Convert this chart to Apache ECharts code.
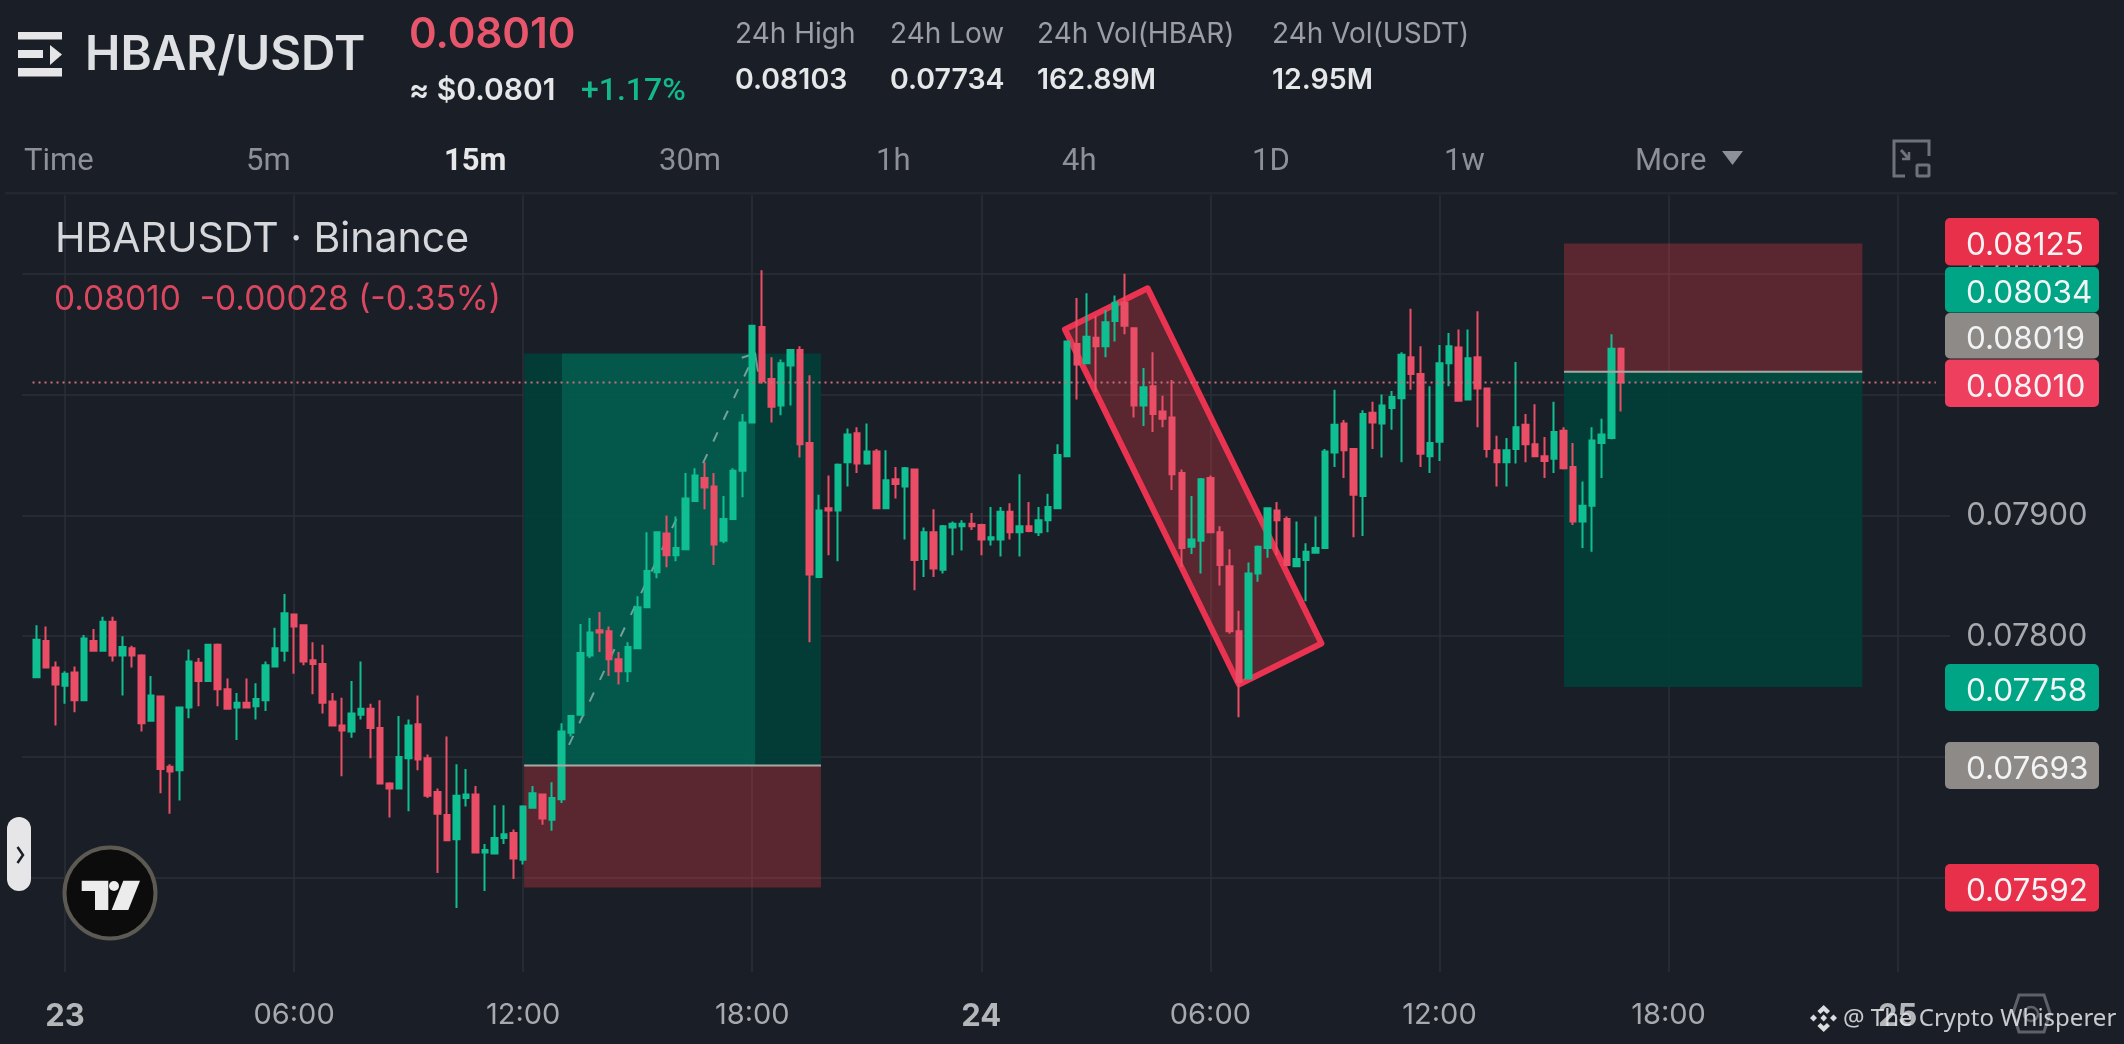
<!DOCTYPE html>
<html><head><meta charset="utf-8">
<script src="https://cdn.jsdelivr.net/npm/echarts@6/dist/echarts.min.js"></script>
<style>html,body{margin:0;padding:0;background:#1a1e27}#c{width:2124px;height:1044px}</style>
</head><body><div id="c"></div>
<script>
// Prices in ticks of 0.00001. One entry per 15-minute bar; bar 0 is 23rd 00:00.
const TICK = 0.00001;
const firstBar = -3;
const opens = [7766,7796,7774,7759,7770,7747,7796,7788,7812,7784,7790,7784,7730,7750,7692,7689,7741,7778,7763,7793,
7756,7741,7745,7742,7747,7775,7788,7818,7809,7780,7777,7746,7726,7721,7735,7740,7724,7678,7674,7699,
7727,7699,7671,7652,7632,7666,7669,7621,7620,7633,7637,7615,7658,7669,7648,7665,7720,7735,7784,7805,
7804,7781,7771,7790,7824,7853,7885,7867,7872,7912,7931,7924,7879,7897,7937,7977,8056,8013,7991,8024,
8037,7960,7849,7906,7904,7944,7968,7943,7953,7906,7930,7924,7938,7864,7886,7855,7890,7891,7893,7892,
7880,7880,7903,7886,7891,7886,7896,7906,7949,8042,8026,8047,8040,8061,8076,8055,7991,8007,7986,7981,
7935,7874,7879,7931,7886,7858,7804,7765,7852,7873,7904,7897,7858,7863,7869,7873,7952,7976,7955,7916,
7985,7976,7989,7997,8031,8017,7949,7961,8026,8039,7996,8031,8005,7954,7944,7955,7975,7959,7949,7947,
7970,7940,7895,7908,7960,7964,8038];
const closes = [7797,7774,7760,7769,7747,7798,7788,7812,7784,7791,7784,7728,7751,7690,7688,7741,7779,7763,7793,7756,
7740,7745,7741,7748,7776,7790,7819,7808,7779,7777,7745,7726,7722,7736,7740,7724,7678,7674,7700,7726,
7698,7668,7653,7631,7668,7669,7621,7623,7633,7636,7616,7659,7670,7649,7666,7721,7734,7786,7803,7803,
7781,7771,7791,7824,7854,7886,7867,7873,7914,7933,7923,7876,7897,7937,7977,8057,8011,7990,8026,8037,
7959,7851,7904,7904,7942,7967,7943,7953,7906,7929,7926,7939,7863,7886,7856,7891,7893,7893,7891,7880,
7882,7903,7886,7891,7887,7896,7907,7950,8044,8025,8048,8040,8060,8076,8057,7991,8006,7984,7980,7934,
7873,7880,7930,7886,7859,7804,7762,7852,7874,7906,7896,7859,7864,7870,7873,7953,7975,7954,7917,7984,
7977,7991,7998,8033,8017,7951,7960,8026,8040,7995,8030,8005,7955,7944,7954,7973,7959,7949,7945,7969,
7939,7895,7908,7962,7967,8038,8010];
const lows = [7766,7774,7726,7744,7737,7747,7788,7788,7779,7751,7774,7721,7730,7670,7653,7664,7732,7742,7763,7742,
7740,7714,7741,7731,7738,7775,7779,7769,7776,7752,7736,7726,7684,7716,7731,7699,7678,7650,7674,7655,
7689,7666,7604,7631,7575,7659,7621,7589,7620,7628,7599,7611,7658,7644,7639,7662,7717,7735,7782,7787,
7767,7760,7762,7790,7824,7848,7857,7862,7872,7912,7905,7859,7877,7897,7915,7977,8009,7977,7983,7991,
7948,7795,7849,7867,7862,7924,7935,7942,7906,7906,7914,7880,7838,7849,7849,7852,7867,7871,7888,7867,
7875,7866,7880,7866,7886,7883,7886,7906,7949,7996,8026,8002,8031,8044,8050,7981,7974,7969,7973,7921,
7857,7868,7852,7886,7842,7802,7733,7765,7845,7865,7867,7858,7858,7829,7869,7873,7940,7931,7882,7883,
7955,7948,7971,7944,8004,7940,7935,7945,8007,7995,7996,7973,7948,7924,7924,7943,7944,7949,7931,7935,
7938,7892,7873,7870,7931,7963,7986];
const highs = [7809,7808,7779,7771,7775,7801,7806,7816,7816,7800,7792,7785,7767,7750,7694,7741,7789,7782,7793,7794,
7765,7753,7765,7761,7779,7807,7835,7818,7809,7795,7793,7753,7749,7763,7779,7744,7747,7679,7734,7731,
7751,7702,7674,7717,7694,7690,7676,7628,7660,7660,7640,7660,7676,7669,7679,7728,7734,7810,7815,7820,
7808,7787,7795,7833,7886,7886,7900,7899,7935,7939,7944,7935,7916,7939,7984,8057,8103,8031,8029,8037,
8040,8016,7917,7933,7943,7972,7973,7976,7955,7954,7940,7940,7938,7890,7905,7892,7895,7896,7902,7893,
7907,7907,7910,7934,7911,7907,7918,7959,8044,8080,8084,8065,8070,8082,8100,8055,8022,8035,7999,8012,
7938,7916,7931,7933,7891,7872,7821,7861,7875,7906,7911,7899,7895,7877,7899,7955,8004,7979,7955,7987,
7994,8000,8003,8035,8071,8040,8007,8041,8051,8054,8054,8069,8005,7966,7964,8027,7984,7992,7965,7994,
7973,7960,7928,7973,7980,8050,8039];

const lastPrice = 0.08010;
const timeTicks = [0,24,48,72,96,120,144,168,192];
const timeLabels = ['23','06:00','12:00','18:00','24','06:00','12:00','18:00','25'];
const dayLabels = ['23','24','25'];
const priceTicks = [0.076,0.077,0.078,0.079,0.080,0.081];

// Long/short position tools: from bar, to bar, top price, bottom price
const longProfit = [[48.1,79.2,0.08034,0.07693]];
const longFill = [[52.07,72.3,0.08034,0.07693]];
const longStop = [[48.1,79.2,0.07693,0.07592]];
const shortStop = [[157.05,188.3,0.08125,0.08019]];
const shortProfit = [[157.05,188.3,0.08019,0.07758]];
const shortFill = [[157.05,188.3,0.08019,0.08010]];
const entryLines = [[48.1,79.2,0.07693],[157.05,188.3,0.08019]];
// Drawn tools: bar, price
const channelBar = [104.76,113.43,131.63,122.99];
const channelPrice = [0.08054,0.08088,0.07794,0.07760];
const trendBar = [52.8,72.3];
const trendPrice = [0.0771,0.08034];
const arrowBar = [70.9,72.3,72.6];
const arrowPrice = [0.080305,0.08034,0.08019];
const lastLine = [[-3.4,196,lastPrice]];

const tagValues = ['0.08125','0.08034','0.08019','0.08010','0.07758','0.07693','0.07592'];
const tagTops = [218,267,313,359.5,664,742,864];
const tagHeights = [47.5,45.5,45.5,47.5,47,47,47.5];
const tagColors = ['#e9304b','#00a585','#8e8a87','#ee3f5f','#00a585','#8e8a87','#e9304b'];

const BG='#1a1e27', UP='#0fbf92', DOWN='#ea4e67', GRID='#2b2f38';
const candleData = opens.map((o,k)=>[firstBar+k,o*TICK,closes[k]*TICK,lows[k]*TICK,highs[k]*TICK]);

function zoneSeries(data,fill,z){
  return {type:'custom',data,z,silent:true,clip:true,encode:{x:[0,1],y:[2,3]},
    renderItem(p,api){
      const a=api.coord([api.value(0),api.value(2)]), b=api.coord([api.value(1),api.value(3)]);
      return {type:'rect',shape:{x:a[0],y:a[1],width:b[0]-a[0],height:b[1]-a[1]},style:{fill}};
    }};
}
function hLineSeries(data,stroke,lineWidth,lineDash,z){
  return {type:'custom',data,z,silent:true,clip:true,encode:{x:[0,1],y:2},
    renderItem(p,api){
      const a=api.coord([api.value(0),api.value(2)]), b=api.coord([api.value(1),api.value(2)]);
      return {type:'line',shape:{x1:a[0],y1:a[1],x2:b[0],y2:b[1]},style:{stroke,lineWidth,lineDash:lineDash||null,fill:null}};
    }};
}
function pathSeries(bars,prices,style,closed,z){
  const data=bars.map((b,k)=>[b,prices[k]]);
  return {type:'custom',data,z,silent:true,clip:true,encode:{x:0,y:1},
    renderItem(p,api){
      if(p.dataIndex!==0) return null;
      const pts=data.map(d=>api.coord(d));
      return {type:closed?'polygon':'polyline',shape:{points:pts},style:Object.assign({fill:closed?style.fill:null},style)};
    }};
}

const HEAD='Inter, Roboto, "Noto Sans", sans-serif';
const ROB='Roboto, "Noto Sans", sans-serif';
function T(text,x,y,size,weight,fill,family,align){
  return {type:'text',z:50,silent:true,style:{text,x,y,fill,align:align||'left',verticalAlign:'middle',
    font:`${weight} ${size}px ${family||HEAD}`}};
}
function R(x,y,w,h,fill,r,extra){
  return Object.assign({type:'rect',z:50,silent:true,shape:{x,y,width:w,height:h,r:r||0},style:{fill}},extra||{});
}
function P(points,style,z){return {type:'polygon',z:z||50,silent:true,shape:{points},style};}
function L(points,stroke,w){return {type:'polyline',z:50,silent:true,shape:{points},style:{stroke,lineWidth:w,fill:null}};}

const GREY='#9b9ea5', TAB='#8d9098', WHITE='#e6e7e9';
const els=[
  R(5,192,2112,2.5,'#23272f'),
  // menu icon
  R(18,32,44,7.5,'#e6e6e8'),R(18,50,25,8,'#e6e6e8'),R(18,68,44,8.5,'#e6e6e8'),
  P([[50,45],[62,54.5],[50,65]],{fill:'#e6e6e8'}),
  T('HBAR/USDT',85,56,47.5,600,'#dfe0e3'),
  T('0.08010',409,35,42,600,'#e8566b'),
  T('≈ $0.0801',409,91,30,600,'#e6e7e9'),
  T('+1.17%',581,92,32,500,'#14b98a',ROB),
  T('24h High',735,35,28,400,GREY),T('24h Low',890,35,28,400,GREY),
  T('24h Vol(HBAR)',1037,35,28,400,GREY),T('24h Vol(USDT)',1272,35,28,400,GREY),
  T('0.08103',735,80,28.5,600,WHITE),T('0.07734',890,80,28.5,600,WHITE),
  T('162.89M',1037,80,28.5,600,WHITE),T('12.95M',1272,80,28.5,600,WHITE),
  T('Time',24,162.5,31,400,TAB,ROB),T('5m',246,162.5,31,400,TAB,ROB),T('15m',444,162.5,31,700,'#e8e8ea',ROB),
  T('30m',659,162.5,31,400,TAB,ROB),T('1h',876,162.5,31,400,TAB,ROB),T('4h',1062,162.5,31,400,TAB,ROB),
  T('1D',1252,162.5,31,400,TAB,ROB),T('1w',1444,162.5,31,400,TAB,ROB),T('More',1635,162.5,31,400,TAB,ROB),
  P([[1722,151],[1743,151],[1732.5,165]],{fill:TAB}),
  L([[1905,176],[1894,176],[1894,141],[1929,141],[1929,156]],'#6f727a',3),
  R(1917,165,12,11,'rgba(0,0,0,0)',1,{style:{fill:null,stroke:'#6f727a',lineWidth:3}}),
  L([[1901,150],[1909,159]],'#6f727a',3),L([[1909,152],[1909,159],[1902,159]],'#6f727a',2.5),
  T('HBARUSDT · Binance',55,240,41,400,'#d6d7da'),
  T('0.08010  -0.00028 (-0.35%)',54,300,33.5,400,'#d9485f'),
  // handle
  R(7,817,24,74,'#e6e6e8',12),
  L([[17.5,847],[23,855],[17.5,863]],'#1c1f27',2.5),
  // TradingView badge
  {type:'circle',z:50,silent:true,shape:{cx:110,cy:893,r:45.5},style:{fill:'#0c0c0c',stroke:'#5d5953',lineWidth:4}},
  P([[81.7,880.7],[108.3,880.7],[108.3,910],[95,910],[95,891],[81.7,891]],{fill:'#ececec'}),
  {type:'circle',z:50,silent:true,shape:{cx:114,cy:886,r:5},style:{fill:'#ececec'}},
  P([[123.3,880.7],[140,880.7],[128.3,910],[111.7,910]],{fill:'#ececec'}),
  // watermark
  P([[2032,995],[2044,995],[2050,1013],[2044,1032],[2019,1032],[2013,1013],[2019,995]],{fill:null,stroke:'rgba(130,134,142,.65)',lineWidth:3}),
  {type:'circle',z:50,silent:true,shape:{cx:2031,cy:1014,r:7},style:{fill:null,stroke:'rgba(130,134,142,.65)',lineWidth:2.5}},
  P([[1823.7,1005],[1830,1011],[1827,1014],[1823.7,1011],[1820.4,1014],[1817.4,1011]],{fill:'#dcdde0'}),
  P([[1823.7,1032],[1830,1026],[1827,1023],[1823.7,1026],[1820.4,1023],[1817.4,1026]],{fill:'#dcdde0'}),
  P([[1823.7,1014.5],[1827,1018],[1823.7,1021.5],[1820.4,1018]],{fill:'#dcdde0'}),
  P([[1813.5,1014.5],[1817,1018],[1813.5,1021.5],[1810,1018]],{fill:'#dcdde0'}),
  P([[1833.5,1014.5],[1837,1018],[1833.5,1021.5],[1830,1018]],{fill:'#dcdde0'}),
  T('@ The Crypto Whisperer',1843,1019,24,400,'rgba(232,233,236,.85)','"Noto Sans", sans-serif'),
];
tagValues.forEach((v,k)=>{
  els.push(R(1945,tagTops[k],154,tagHeights[k],tagColors[k],5));
  els.push(T(v,1966,tagTops[k]+tagHeights[k]/2+4,31.5,400,'#f2f3f4'));
});

const chart=echarts.init(document.getElementById('c'),null,{renderer:'canvas',width:2124,height:1044});
chart.setOption({
  animation:false,
  backgroundColor:BG,
  grid:{left:22.05,top:195.3,width:1928.09,height:776.7,containLabel:false},
  xAxis:{type:'value',min:-4.5,max:197.5,
    axisLine:{show:false},
    axisTick:{show:false,customValues:timeTicks},
    splitLine:{show:true,lineStyle:{color:GRID,width:1.5}},
    axisLabel:{show:true,customValues:timeTicks,margin:29,color:'#a7a9ae',fontFamily:HEAD,fontSize:29,
      hideOverlap:false,showMinLabel:true,showMaxLabel:true,
      formatter(v){const s=timeLabels[timeTicks.indexOf(v)];return dayLabels.includes(s)?`{d|${s}}`:s;},
      rich:{d:{fontWeight:700,fontSize:31,color:'#b4b6ba',fontFamily:HEAD}}}},
  yAxis:{type:'value',position:'right',min:0.07522,max:0.08165,scale:true,
    axisLine:{show:false},
    axisTick:{show:false,customValues:priceTicks},
    splitLine:{show:true,lineStyle:{color:GRID,width:1.5}},
    axisLabel:{show:true,customValues:priceTicks,margin:16,color:'#a7a9ae',fontFamily:HEAD,fontSize:31,padding:[11,0,0,0],
      formatter:v=>v.toFixed(5)}},
  graphic:{elements:els},
  series:[
    zoneSeries(longProfit,'rgba(0,64,58,.885)',1),
    zoneSeries(longFill,'rgba(3,157,123,.3)',1),
    zoneSeries(longStop,'rgba(239,63,69,.3)',1),
    zoneSeries(shortStop,'rgba(239,63,69,.3)',1),
    zoneSeries(shortProfit,'rgba(0,64,58,.885)',1),
    zoneSeries(shortFill,'rgba(3,157,123,.15)',1),
    pathSeries(trendBar,trendPrice,{stroke:'rgba(205,220,215,.55)',lineWidth:2,lineDash:[10,14]},false,2),
    pathSeries(arrowBar,arrowPrice,{stroke:'rgba(205,220,215,.55)',lineWidth:2},false,2),
    pathSeries(channelBar,channelPrice,{fill:'rgba(239,63,69,.3)',stroke:'#e93350',lineWidth:6,lineJoin:'round'},true,2),
    {type:'candlestick',z:3,data:candleData,barWidth:6,encode:{x:0,y:[1,2,3,4]},silent:true,
     itemStyle:{color:UP,color0:DOWN,borderColor:UP,borderColor0:DOWN,borderColorDoji:DOWN,borderWidth:2}},
    hLineSeries(entryLines,'#a9a9a4',2,null,4),
    hLineSeries(lastLine,'#c96f80',2,[2,4],6),
  ]
});
</script></body></html>
